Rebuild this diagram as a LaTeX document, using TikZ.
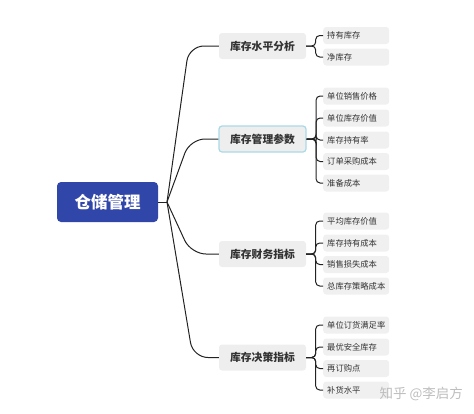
\documentclass[tikz,border=0pt]{standalone}
\usepackage{fontspec}
\setmainfont{Noto Sans CJK SC}
\usetikzlibrary{calc}
\definecolor{rootblue}{HTML}{3146A9}
\definecolor{boxgray}{HTML}{EEEEEE}
\definecolor{childgray}{HTML}{F0F0F0}
\definecolor{linedark}{HTML}{222222}
\definecolor{txtdark}{HTML}{333333}
\definecolor{selblue}{HTML}{A9D9E8}
\definecolor{wmgray}{HTML}{BDBDBD}
\tikzset{
  rootbox/.style={fill=rootblue, text=white, rounded corners=4pt, minimum width=101pt, minimum height=40pt, inner sep=0pt, font=\fontsize{16.5}{18}\selectfont\bfseries},
  lonebox/.style={fill=boxgray, text=txtdark, rounded corners=3pt, minimum width=87pt, minimum height=26pt, inner sep=0pt, font=\fontsize{10.8}{12}\selectfont\bfseries},
  lsel/.style={lonebox, draw=selblue, line width=1.2pt},
  ltwobox/.style={fill=childgray, text=txtdark, rounded corners=3pt, anchor=west, text width=58pt, inner xsep=4pt, inner ysep=0pt, minimum height=17pt, align=left, font=\fontsize{8.3}{9}\selectfont},
  conn/.style={draw=linedark, line width=1pt},
  mainconn/.style={conn, rounded corners=15pt},
  subconn/.style={conn, rounded corners=4pt},
}
\begin{document}
\begin{tikzpicture}[x=1pt,y=-1pt]
\useasboundingbox (0,0) rectangle (474,413);
\node[rootbox] (root) at (107.5,202) {仓储管理};
\coordinate (j) at (167,202);

\node[lonebox] (a) at (262.5,46) {库存水平分析};
\node[lsel] (b) at (262.5,139) {库存管理参数};
\node[lonebox] (c) at (262.5,254) {库存财务指标};
\node[lonebox] (d) at (262.5,357.5) {库存决策指标};

\node[ltwobox] (a1) at (323,35.5) {持有库存};
\node[ltwobox] (a2) at (323,57) {净库存};

\node[ltwobox] (b1) at (323,96) {单位销售价格};
\node[ltwobox] (b2) at (323,118) {单位库存价值};
\node[ltwobox] (b3) at (323,140) {库存持有率};
\node[ltwobox] (b4) at (323,161.5) {订单采购成本};
\node[ltwobox] (b5) at (323,183) {准备成本};

\node[ltwobox] (c1) at (323,221) {平均库存价值};
\node[ltwobox] (c2) at (323,243) {库存持有成本};
\node[ltwobox] (c3) at (323,264.5) {销售损失成本};
\node[ltwobox] (c4) at (323,286) {总库存策略成本};

\node[ltwobox] (d1) at (323,325) {单位订货满足率};
\node[ltwobox] (d2) at (323,347) {最优安全库存};
\node[ltwobox] (d3) at (323,368.5) {再订购点};
\node[ltwobox] (d4) at (323,390) {补货水平};

\draw[conn] (root.east) -- (j);
\draw[mainconn] (j) -- (189,46) -- (a.west);
\draw[mainconn] (j) -- (190,139) -- (b.west);
\draw[mainconn] (j) -- (191,254) -- (c.west);
\draw[mainconn] (j) -- (193,357.5) -- (d.west);

\foreach \p/\kids in {a/{a1,a2}, b/{b1,b2,b3,b4,b5}, c/{c1,c2,c3,c4}, d/{d1,d2,d3,d4}}{
  \foreach \k in \kids {
    \draw[subconn] (\p.east) -- ($(\p.east)+(9.5,0)$) |- (\k.west);
  }
}

\node[text=wmgray, font=\fontsize{13.5}{15}\selectfont, anchor=east, inner sep=0pt] (wm) at (463,394) {知乎 @李启方};
\end{tikzpicture}
\end{document}
